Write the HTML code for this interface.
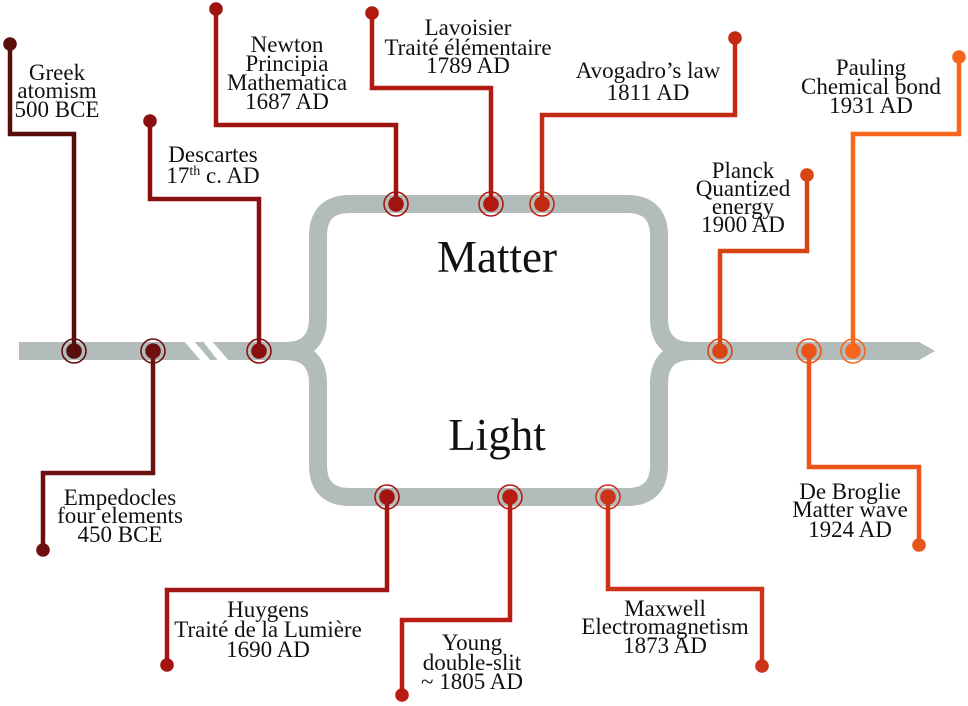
<!DOCTYPE html>
<html><head><meta charset="utf-8"><style>
html,body{margin:0;padding:0;background:#fff;}
svg{display:block;}
text{font-family:"Liberation Serif",serif;fill:#111;}
.l{font-size:23px;text-anchor:middle;}
.big{font-size:45px;text-anchor:middle;}
</style></head><body>
<svg width="968" height="706" viewBox="0 0 968 706" xmlns="http://www.w3.org/2000/svg">
<g fill="none" stroke="#b2bcbb" stroke-width="18">
<path d="M19 351 L285 351 Q318 351 318 318 L318 236 Q318 204 350 204 L627 204 Q659 204 659 236 L659 318 Q659 351 692 351 L920 351"/>
<path d="M285 351 Q318 351 318 384 L318 465 Q318 497 350 497 L627 497 Q659 497 659 465 L659 384 Q659 351 692 351"/>
</g>
<polygon points="919,342 935,351 919,360" fill="#b2bcbb"/>
<polygon points="183,340 193,340 212,362 202,362" fill="#fff"/>
<polygon points="202,340 211,340 230,362 219,362" fill="#fff"/>

<g fill="none" stroke-width="4.5" stroke-linejoin="miter">
<path d="M10 44 L10 134 L74 134 L74 351" stroke="#5a0d0d"/>
<path d="M153 351 L153 473 L43 473 L43 550" stroke="#6e1010"/>
<path d="M150 121 L150 199 L259 199 L259 351" stroke="#8a1010"/>
<path d="M216 9 L216 125 L396 125 L396 204" stroke="#a01410"/>
<path d="M372 13 L372 88 L491 88 L491 204" stroke="#b01a10"/>
<path d="M735 38 L735 115 L542 115 L542 204" stroke="#c22a12"/>
<path d="M387 497 L387 590 L167 590 L167 665" stroke="#a31510"/>
<path d="M510 497 L510 620 L402 620 L402 695" stroke="#b81c12"/>
<path d="M608 497 L608 589 L762 589 L762 666" stroke="#cc3318"/>
<path d="M807 175 L807 251 L720 251 L720 351" stroke="#d84512"/>
<path d="M809 351 L809 467 L919 467 L919 545" stroke="#ea5418"/>
<path d="M959 57 L959 134 L853 134 L853 351" stroke="#f8661e"/>
</g>

<g stroke-width="1.6">
<g fill="#5a0d0d" stroke="#5a0d0d"><circle cx="74" cy="351" r="12" fill="none"/><circle cx="74" cy="351" r="7"/><circle cx="10" cy="44" r="6"/></g>
<g fill="#6e1010" stroke="#6e1010"><circle cx="153" cy="351" r="12" fill="none"/><circle cx="153" cy="351" r="7"/><circle cx="43" cy="550" r="6"/></g>
<g fill="#8a1010" stroke="#8a1010"><circle cx="259" cy="351" r="12" fill="none"/><circle cx="259" cy="351" r="7"/><circle cx="150" cy="121" r="6"/></g>
<g fill="#a01410" stroke="#a01410"><circle cx="396" cy="204" r="12" fill="none"/><circle cx="396" cy="204" r="7"/><circle cx="216" cy="9" r="6"/></g>
<g fill="#b01a10" stroke="#b01a10"><circle cx="491" cy="204" r="12" fill="none"/><circle cx="491" cy="204" r="7"/><circle cx="372" cy="13" r="6"/></g>
<g fill="#c22a12" stroke="#c22a12"><circle cx="542" cy="204" r="12" fill="none"/><circle cx="542" cy="204" r="7"/><circle cx="735" cy="38" r="6"/></g>
<g fill="#a31510" stroke="#a31510"><circle cx="387" cy="497" r="12" fill="none"/><circle cx="387" cy="497" r="7"/><circle cx="167" cy="665" r="6"/></g>
<g fill="#b81c12" stroke="#b81c12"><circle cx="510" cy="497" r="12" fill="none"/><circle cx="510" cy="497" r="7"/><circle cx="402" cy="695" r="6"/></g>
<g fill="#cc3318" stroke="#cc3318"><circle cx="608" cy="497" r="12" fill="none"/><circle cx="608" cy="497" r="7"/><circle cx="762" cy="666" r="6"/></g>
<g fill="#d84512" stroke="#d84512"><circle cx="720" cy="351" r="12" fill="none"/><circle cx="720" cy="351" r="7"/><circle cx="807" cy="175" r="6"/></g>
<g fill="#ea5418" stroke="#ea5418"><circle cx="809" cy="351" r="12" fill="none"/><circle cx="809" cy="351" r="7"/><circle cx="919" cy="545" r="6"/></g>
<g fill="#f8661e" stroke="#f8661e"><circle cx="853" cy="351" r="12" fill="none"/><circle cx="853" cy="351" r="7"/><circle cx="959" cy="57" r="6"/></g>
</g>

<text class="big" x="497" y="272">Matter</text>
<text class="big" x="497" y="450">Light</text>

<text class="l" x="57" y="80">Greek</text>
<text class="l" x="57" y="98">atomism</text>
<text class="l" x="57" y="117">500 BCE</text>

<text class="l" x="287" y="52">Newton</text>
<text class="l" x="287" y="71">Principia</text>
<text class="l" x="287" y="90">Mathematica</text>
<text class="l" x="287" y="109">1687 AD</text>

<text class="l" x="213" y="162">Descartes</text>
<text class="l" x="213" y="183">17<tspan font-size="14" dy="-8">th</tspan><tspan dy="8"> c. AD</tspan></text>

<text class="l" x="468" y="35">Lavoisier</text>
<text class="l" x="468" y="55">Traité élémentaire</text>
<text class="l" x="468" y="73">1789 AD</text>

<text class="l" x="648" y="78">Avogadro’s law</text>
<text class="l" x="648" y="100">1811 AD</text>

<text class="l" x="871" y="75">Pauling</text>
<text class="l" x="871" y="94">Chemical bond</text>
<text class="l" x="871" y="113">1931 AD</text>

<text class="l" x="743" y="178">Planck</text>
<text class="l" x="743" y="196">Quantized</text>
<text class="l" x="743" y="214">energy</text>
<text class="l" x="743" y="232">1900 AD</text>

<text class="l" x="850" y="499">De Broglie</text>
<text class="l" x="850" y="517">Matter wave</text>
<text class="l" x="850" y="537">1924 AD</text>

<text class="l" x="120" y="505">Empedocles</text>
<text class="l" x="120" y="523">four elements</text>
<text class="l" x="120" y="542">450 BCE</text>

<text class="l" x="268" y="617">Huygens</text>
<text class="l" x="268" y="637">Traité de la Lumière</text>
<text class="l" x="268" y="657">1690 AD</text>

<text class="l" x="472" y="650">Young</text>
<text class="l" x="472" y="670">double-slit</text>
<text class="l" x="472" y="689">~ 1805 AD</text>

<text class="l" x="665" y="616">Maxwell</text>
<text class="l" x="665" y="634">Electromagnetism</text>
<text class="l" x="665" y="653">1873 AD</text>
</svg>
</body></html>
